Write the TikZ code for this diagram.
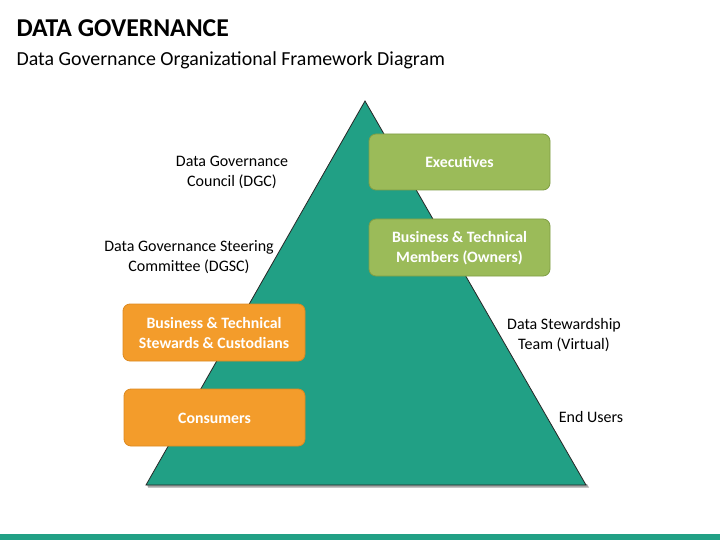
\documentclass[tikz,border=0pt]{standalone}
\usepackage{fontspec}
\setmainfont{Carlito}
\definecolor{teal1}{HTML}{21A085}
\definecolor{green1}{HTML}{9BBB59}
\definecolor{green2}{HTML}{7F9E45}
\definecolor{orange1}{HTML}{F39C2B}
\definecolor{orange2}{HTML}{DD8A20}
\begin{document}
\begin{tikzpicture}[x=1pt,y=-1pt,
  gbox/.style={draw=green2,fill=green1,rounded corners=7pt,line width=0.8pt},
  obox/.style={draw=orange2,fill=orange1,rounded corners=7pt,line width=0.8pt},
  btxt/.style={text=white,font=\bfseries\fontsize{15.8}{19.5}\selectfont,align=center},
  lbl/.style={font=\fontsize{16}{20}\selectfont,align=center,text=black}]
\useasboundingbox (0,0) rectangle (720,540);
\fill[white] (0,0) rectangle (720,540);
% title
\node[anchor=west,font=\bfseries\fontsize{25.7}{30}\selectfont] (title) at (13,28) {DATA GOVERNANCE};
\node[anchor=west,font=\fontsize{19.9}{24}\selectfont] (sub) at (13,60) {Data Governance Organizational Framework Diagram};
% bottom bar
\fill[teal1] (0,534) rectangle (720,540);
% triangle shadow
\fill[black!35] (148,487.5) -- (589,487.5) -- (587,484) -- (147,484) -- cycle;
\draw[fill=teal1,draw=black!85,line width=0.8pt] (365,101) -- (586,485) -- (146,485) -- cycle;
% boxes
\draw[gbox] (369,134) rectangle (550,190);
\node[btxt] (exec) at (459.5,162) {Executives};
\draw[gbox] (369,219) rectangle (550,276);
\node[btxt] (own) at (459.5,248) {Business \& Technical\\Members (Owners)};
\draw[obox] (123,304) rectangle (305,361);
\node[btxt] (stew) at (214,333) {Business \& Technical\\Stewards \& Custodians};
\draw[obox] (124,389) rectangle (305,446);
\node[btxt] (cons) at (214.5,418) {Consumers};
% labels
\node[lbl] (dgc) at (232,172) {Data Governance\\Council (DGC)};
\node[lbl] (dgsc) at (189,257) {Data Governance Steering\\Committee (DGSC)};
\node[lbl] (dst) at (564,335) {Data Stewardship\\Team (Virtual)};
\node[lbl] (eu) at (591,417) {End Users};
\end{tikzpicture}
\end{document}
